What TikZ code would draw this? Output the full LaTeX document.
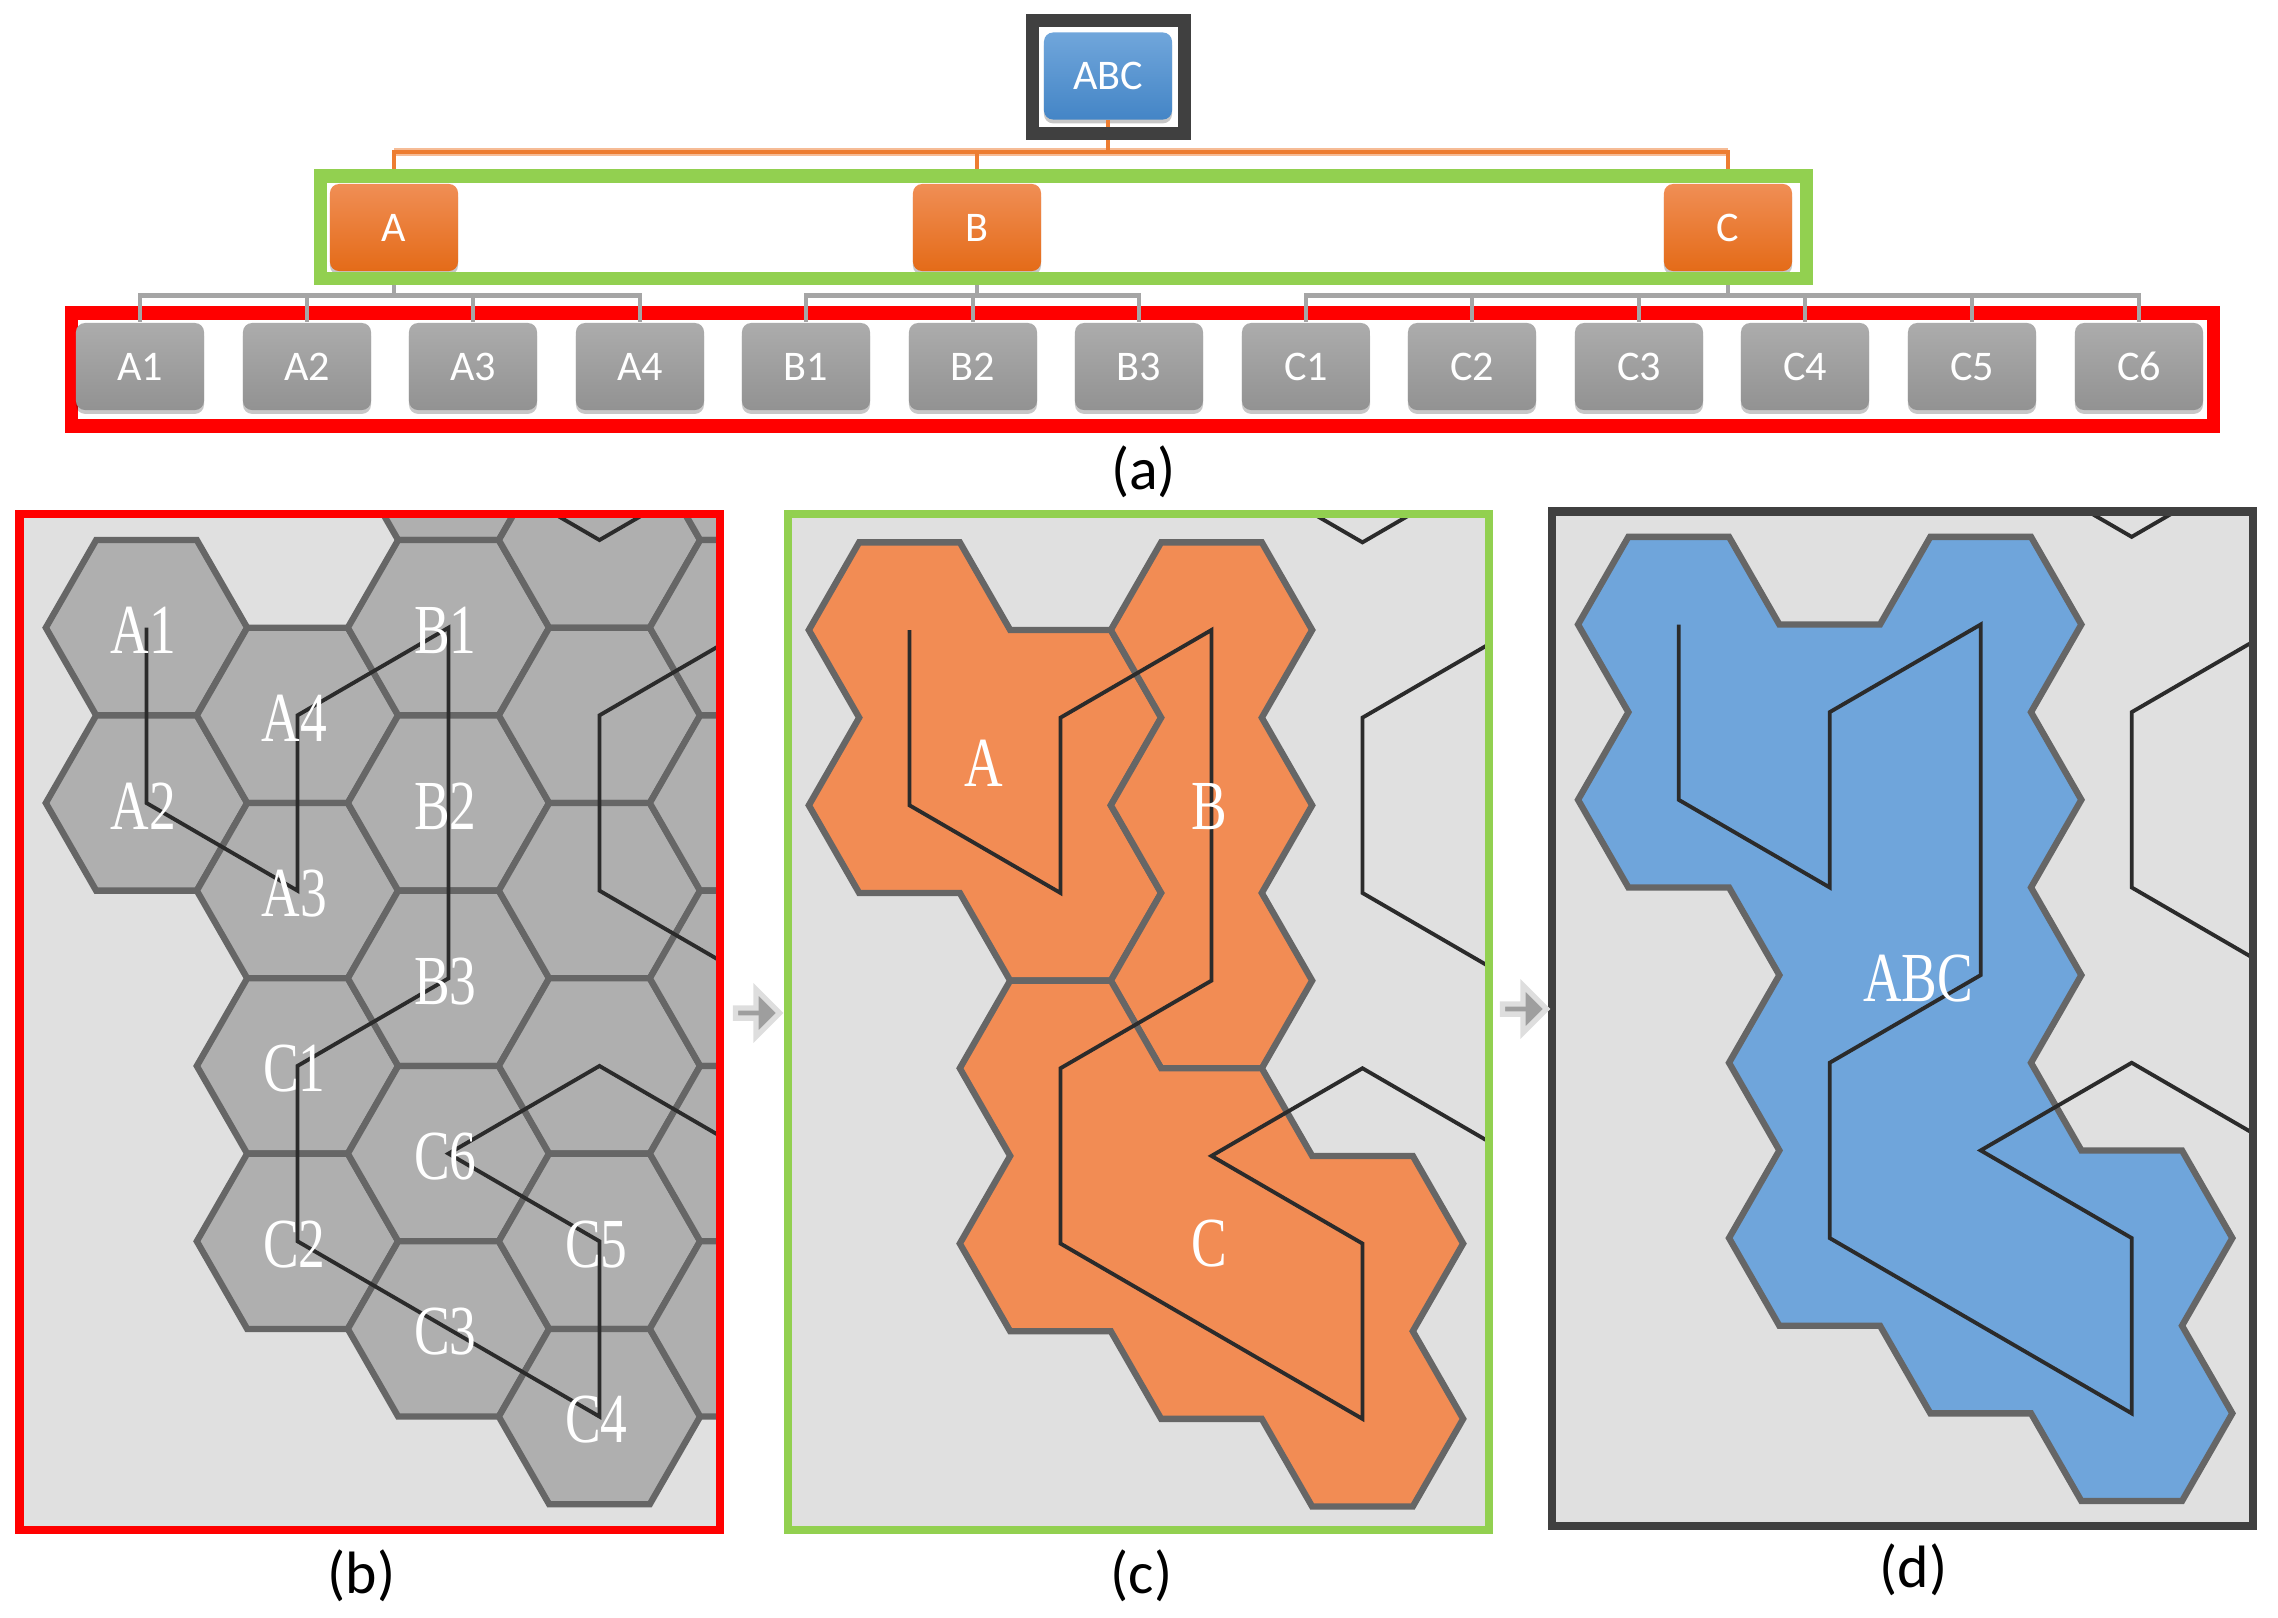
\documentclass[tikz,border=0pt]{standalone}
\usepackage{fontspec}
\usepackage{tikz}
\usetikzlibrary{shadows,shapes.arrows}
\setmainfont{Carlito}
\newfontfamily\hexfont[FakeStretch=0.76]{Liberation Serif}
\definecolor{panelgray}{HTML}{E0E0E0}
\definecolor{cellgray}{HTML}{AFAFAF}
\definecolor{celledge}{HTML}{666666}
\definecolor{routeblack}{HTML}{2B2B2B}
\definecolor{cellorange}{HTML}{F28C54}
\definecolor{cellblue}{HTML}{6FA5DB}
\definecolor{framegreen}{HTML}{92D050}
\definecolor{framedark}{HTML}{404040}
\definecolor{busorange}{HTML}{ED7D31}
\definecolor{bushalo}{HTML}{F6BC96}
\definecolor{busgray}{HTML}{A5A5A5}
\definecolor{leaftop}{HTML}{ACACAC}
\definecolor{leafmid}{HTML}{A2A2A2}
\definecolor{leafbot}{HTML}{929292}
\definecolor{orangetop}{HTML}{F08E55}
\definecolor{orangemid}{HTML}{F57E2D}
\definecolor{orangebot}{HTML}{E46B18}
\definecolor{bluetop}{HTML}{70A6DB}
\definecolor{bluemid}{HTML}{5B9AD6}
\definecolor{bluebot}{HTML}{4485C6}
\tikzset{
  treebox/.style={rounded corners=2.6pt,minimum width=1.28cm,minimum height=.87cm,inner sep=0pt,text=white,font=\fontsize{12}{14}\selectfont,
    drop shadow={shadow xshift=0pt,shadow yshift=-1.1pt,opacity=.22,fill=black}},
  grayleaf/.style={treebox,top color=leaftop,middle color=leafmid,bottom color=leafbot},
  orangebox/.style={treebox,top color=orangetop,middle color=orangemid,bottom color=orangebot},
  bluebox/.style={treebox,top color=bluetop,middle color=bluemid,bottom color=bluebot},
  hexcells/.style={x=.503cm,y=-.876cm},
  cell/.style={draw=celledge,line width=1.8pt,line join=miter},
  route/.style={draw=routeblack,line width=1.1pt},
  hexlabel/.style={inner sep=0pt,text=white,font=\hexfont\fontsize{20}{24}\selectfont},
  caption/.style={inner sep=0pt,font=\fontsize{17}{20}\selectfont},
  flowarrow/.style={single arrow,single arrow head extend=.095cm,minimum width=.47cm,minimum height=.44cm,inner sep=0pt,fill=black!38,draw=black!13,line width=1.5pt}
}
\newcommand{\cellroutes}{
      \draw [route] (0,0) -- (0,2) -- (3,3) -- (3,1) -- (6,0) -- (6,4) -- (3,5) -- (3,7) -- (9,9) -- (9,7) -- (6,6) -- (9,5) -- (12,6) ;
      \draw [route] (12,0) -- (9,1) -- (9,3) -- (12,4) ;
      \draw [route] (6,-2) -- (9,-1) -- (12,-2) ;
}
\begin{document}
\begin{tikzpicture}[x=.01cm,y=-.01cm]
      \useasboundingbox (0,0) rectangle (2278,1618);

      \draw [red,line width=3.7pt] (71.5,313) rectangle (2213.5,426);

      \node [bluebox] (abc) at (1108,76) {ABC};
      \node [orangebox] (a) at (394,227.5) {A};
      \node [orangebox] (b) at (977,227.5) {B};
      \node [orangebox] (c) at (1728,227.5) {C};

      \node [grayleaf] (A1) at (140,366.5) {A1};
      \node [grayleaf] (A2) at (307,366.5) {A2};
      \node [grayleaf] (A3) at (473,366.5) {A3};
      \node [grayleaf] (A4) at (640,366.5) {A4};
      \node [grayleaf] (B1) at (806,366.5) {B1};
      \node [grayleaf] (B2) at (973,366.5) {B2};
      \node [grayleaf] (B3) at (1139,366.5) {B3};
      \node [grayleaf] (C1) at (1306,366.5) {C1};
      \node [grayleaf] (C2) at (1472,366.5) {C2};
      \node [grayleaf] (C3) at (1639,366.5) {C3};
      \node [grayleaf] (C4) at (1805,366.5) {C4};
      \node [grayleaf] (C5) at (1972,366.5) {C5};
      \node [grayleaf] (C6) at (2139,366.5) {C6};

      \coordinate (orangebus) at (0,152);
      \coordinate (graybus) at (0,295.5);

      \draw [bushalo,line width=2pt] (a.north |- orangebus) -- (c.north |- orangebus);
      \draw [busorange,line width=1pt] (abc.south) -- (abc.south |- orangebus) -| (a.north);
      \draw [busorange,line width=1pt] (abc.south |- orangebus) -| (b.north);
      \draw [busorange,line width=1pt] (abc.south |- orangebus) -| (c.north);

      \draw [busgray,line width=1.2pt] (a.south) -- (a.south |- graybus);
      \draw [busgray,line width=1.2pt] (b.south) -- (b.south |- graybus);
      \draw [busgray,line width=1.2pt] (c.south) -- (c.south |- graybus);
      \foreach \leaf in {A1,A2,A3,A4}
        \draw [busgray,line width=1.2pt] (a.south |- graybus) -| (\leaf.north);
      \foreach \leaf in {B1,B2,B3}
        \draw [busgray,line width=1.2pt] (b.south |- graybus) -| (\leaf.north);
      \foreach \leaf in {C1,C2,C3,C4,C5,C6}
        \draw [busgray,line width=1.2pt] (c.south |- graybus) -| (\leaf.north);

      \draw [framegreen,line width=3.7pt] (320.5,176) rectangle (1806.5,278.5);
      \draw [framedark,line width=3.7pt] (1032,20.5) rectangle (1184,133.5);

      \node [caption] (capa) at (1143.5,472) {(a)};

      \fill [panelgray] (19.5,514) rectangle (720,1530);
      \begin{scope}
        \clip (19.5,514) rectangle (720,1530);
        \begin{scope}[shift={(146.5,627.7)},hexcells]
          \foreach \col/\row in {0/0,0/2,3/1,3/3,3/5,3/7,6/-2,6/0,6/2,6/4,6/6,6/8,9/-1,9/1,9/3,9/5,9/7,9/9,12/-2,12/0,12/2,12/4,12/6,12/8}
            \draw [cell,fill=cellgray] ({\col-1},{\row-1}) -- ({\col+1},{\row-1}) -- ({\col+2},\row) -- ({\col+1},{\row+1}) -- ({\col-1},{\row+1}) -- ({\col-2},\row) -- cycle;
          \cellroutes
          \foreach \col/\row/\name in {0/0/A1,0/2/A2,3/3/A3,3/1/A4,6/0/B1,6/2/B2,6/4/B3,3/5/C1,3/7/C2,6/8/C3,9/9/C4,9/7/C5,6/6/C6}
            \node [hexlabel,xshift=-.03cm,yshift=-.03cm] (cell\name) at (\col,\row) {\name};
        \end{scope}
      \end{scope}
      \draw [red,line width=2.3pt] (19.5,514) rectangle (720,1530);

      \fill [panelgray] (788,514) rectangle (1489,1530);
      \begin{scope}
        \clip (788,514) rectangle (1489,1530);
        \begin{scope}[shift={(909.5,630)},hexcells]
          \draw [cell,fill=cellorange] (-1,-1) -- (1,-1) -- (2,0) -- (4,0) -- (5,1) -- (4,2) -- (5,3) -- (4,4) -- (2,4) -- (1,3) -- (-1,3) -- (-2,2) -- (-1,1) -- (-2,0) -- cycle;
          \draw [cell,fill=cellorange] (5,-1) -- (7,-1) -- (8,0) -- (7,1) -- (8,2) -- (7,3) -- (8,4) -- (7,5) -- (5,5) -- (4,4) -- (5,3) -- (4,2) -- (5,1) -- (4,0) -- cycle;
          \draw [cell,fill=cellorange] (2,4) -- (4,4) -- (5,5) -- (7,5) -- (8,6) -- (10,6) -- (11,7) -- (10,8) -- (11,9) -- (10,10) -- (8,10) -- (7,9) -- (5,9) -- (4,8) -- (2,8) -- (1,7) -- (2,6) -- (1,5) -- cycle;
          \cellroutes
          \node [hexlabel] (regiona) at (1.47,1.52) {A};
          \node [hexlabel] (regionb) at (5.95,2.02) {B};
          \node [hexlabel] (regionc) at (5.95,7) {C};
        \end{scope}
      \end{scope}
      \draw [framegreen,line width=2.3pt] (788,514) rectangle (1489,1530);

      \fill [panelgray] (1552,511.5) rectangle (2253,1526);
      \begin{scope}
        \clip (1552,511.5) rectangle (2253,1526);
        \begin{scope}[shift={(1678.7,624.5)},hexcells]
          \draw [cell,fill=cellblue] (-1,-1) -- (1,-1) -- (2,0) -- (4,0) -- (5,-1) -- (7,-1) -- (8,0) -- (7,1) -- (8,2) -- (7,3) -- (8,4) -- (7,5) -- (8,6) -- (10,6) -- (11,7) -- (10,8) -- (11,9) -- (10,10) -- (8,10) -- (7,9) -- (5,9) -- (4,8) -- (2,8) -- (1,7) -- (2,6) -- (1,5) -- (2,4) -- (1,3) -- (-1,3) -- (-2,2) -- (-1,1) -- (-2,0) -- cycle;
          \cellroutes
          \node [hexlabel] (regionabc) at (4.76,4.04) {ABC};
        \end{scope}
      \end{scope}
      \draw [framedark,line width=2.3pt] (1552,511.5) rectangle (2253,1526);

      \node [flowarrow] (flowbc) at (755,1013) {};
      \node [flowarrow] (flowcd) at (1522,1009) {};

      \node [caption] (capb) at (361.5,1576) {(b)};
      \node [caption] (capc) at (1141.5,1576) {(c)};
      \node [caption] (capd) at (1913.5,1570) {(d)};
    \end{tikzpicture}
\end{document}
